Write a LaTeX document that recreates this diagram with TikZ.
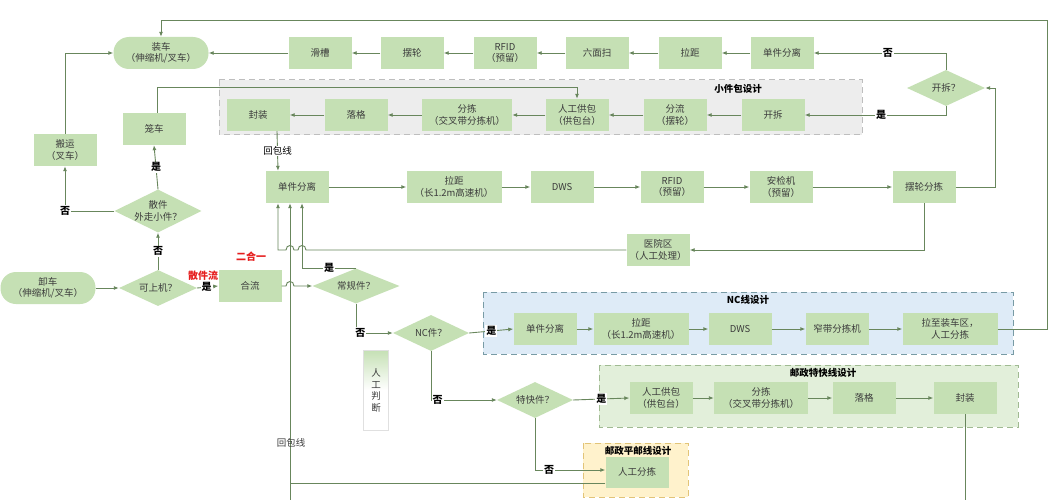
\documentclass[tikz,border=0pt]{standalone}
\usepackage{fontspec}
\setmainfont{Noto Sans CJK SC}
\usetikzlibrary{shapes.geometric,arrows.meta,calc}
\definecolor{boxg}{RGB}{197,224,180}
\definecolor{ln}{RGB}{104,134,92}
\definecolor{txt}{RGB}{60,60,60}
\definecolor{gfill}{RGB}{237,237,237}
\definecolor{gdraw}{RGB}{190,190,190}
\definecolor{bfill}{RGB}{222,235,247}
\definecolor{bdraw}{RGB}{120,155,165}
\definecolor{efill}{RGB}{226,239,218}
\definecolor{edraw}{RGB}{160,186,146}
\definecolor{yfill}{RGB}{255,242,204}
\definecolor{ydraw}{RGB}{226,196,120}
\definecolor{redlbl}{RGB}{230,30,30}
\newcommand\boxfont{\fontsize{9.5}{11.5}\selectfont}
\newcommand\lblfont{\fontsize{10}{12}\selectfont\bfseries}
\newcommand\ttlfont{\fontsize{9.5}{11}\selectfont\bfseries}
\tikzset{
 bx/.style={rectangle, fill=boxg, minimum width=63pt, minimum height=32pt, inner sep=1pt, align=center, text=txt, font=\boxfont},
 wbx/.style={bx, minimum width=95pt},
 pill/.style={bx, minimum width=95pt, rounded corners=15.5pt},
 dia/.style={diamond, fill=boxg, aspect=2, inner sep=-4pt, align=center, text=txt, font=\boxfont},
 arr/.style={draw=ln, line width=0.9pt, -{Latex[length=5pt,width=4pt]}},
 lnz/.style={draw=ln, line width=0.9pt},
 lbl/.style={fill=white, inner sep=1pt, font=\lblfont, text=black},
 grp/.style={dash pattern=on 6pt off 4pt, line width=1pt},
 gtitle/.style={font=\ttlfont, text=black},
 judge/.style={rectangle, draw=black!12, top color=boxg, bottom color=white, middle color=white, minimum width=25pt, minimum height=80pt, align=center, inner sep=1pt, text=txt, font=\boxfont, text depth=0pt}
}
\begin{document}
\begin{tikzpicture}[x=1pt,y=-1pt]
\useasboundingbox (0,0) rectangle (1049,500);
\fill[white] (0,0) rectangle (1049,500);
% groups
\draw[grp, fill=gfill, draw=gdraw] (219,80) rectangle (862,135);
\node[gtitle] (g1) at (738,89) {小件包设计};
\draw[grp, fill=bfill, draw=bdraw] (483,292) rectangle (1013,354);
\node[gtitle] (g2) at (748,300) {NC线设计};
\draw[grp, fill=efill, draw=edraw] (599,365) rectangle (1018,427);
\node[gtitle] (g3) at (823,373) {邮政特快线设计};
\draw[grp, fill=yfill, draw=ydraw] (583,443) rectangle (688,497);
\node[gtitle] (g4) at (638,451) {邮政平邮线设计};
% top row
\node[pill] (load) at (161,53) {装车\\（伸缩机/叉车）};
\node[bx] (t1) at (320,53) {滑槽};
\node[bx] (t2) at (412,53) {摆轮};
\node[bx] (t3) at (505,53) {RFID\\（预留）};
\node[bx] (t4) at (597,53) {六面扫};
\node[bx] (t5) at (690,53) {拉距};
\node[bx] (t6) at (782,53) {单件分离};
\node[dia, minimum width=78pt, minimum height=36pt] (kc) at (946,88) {开拆？};
% small package row
\node[bx] (s1) at (258,115) {封装};
\node[bx] (s2) at (356,115) {落格};
\node[bx, minimum width=90pt] (s3) at (467,115) {分拣\\（交叉带分拣机）};
\node[bx] (s4) at (577,115) {人工供包\\（供包台）};
\node[bx] (s5) at (675,115) {分流\\（摆轮）};
\node[bx] (s6) at (773,115) {开拆};
% left column
\node[bx] (cage) at (154,129) {笼车};
\node[bx] (carry) at (65,150) {搬运\\（叉车）};
\node[dia, minimum width=87pt, minimum height=43pt] (sd) at (158,211) {散件\\外走小件？};
\node[pill] (unload) at (48,288) {卸车\\（伸缩机/叉车）};
\node[dia, minimum width=78pt, minimum height=36pt] (cm) at (158,288) {可上机？};
\node[bx] (merge) at (250,286) {合流};
\node[text=redlbl, font=\lblfont] (rl1) at (203,276) {散件流};
\node[text=redlbl, font=\lblfont] (rl2) at (251,257) {二合一};
% second row
\node[bx] (r1) at (297,187) {单件分离};
\node[wbx] (r2) at (454,187) {拉距\\（长1.2m高速机）};
\node[bx] (r3) at (562,187) {DWS};
\node[bx] (r4) at (672,187) {RFID\\（预留）};
\node[bx] (r5) at (781,187) {安检机\\（预留）};
\node[bx] (r6) at (924,187) {摆轮分拣};
\node[bx] (hosp) at (658,250) {医院区\\（人工处理）};
% decisions
\node[dia, minimum width=87pt, minimum height=35pt] (cg) at (356,286) {常规件？};
\node[dia, minimum width=76pt, minimum height=36pt] (nc) at (431,333) {NC件？};
\node[dia, minimum width=76pt, minimum height=36pt] (tk) at (535,400) {特快件？};
\node[judge] (jd) at (376,390) {人\\工\\判\\断};
% NC row
\node[bx] (n1) at (545,329) {单件分离};
\node[wbx] (n2) at (641,329) {拉距\\（长1.2m高速机）};
\node[bx] (n3) at (740,329) {DWS};
\node[bx] (n4) at (837,329) {窄带分拣机};
\node[wbx] (n5) at (950,329) {拉至装车区，\\人工分拣};
% express row
\node[bx] (e1) at (661,398) {人工供包\\（供包台）};
\node[bx, minimum width=94pt] (e2) at (761,398) {分拣\\（交叉带分拣机）};
\node[bx] (e3) at (864,398) {落格};
\node[bx] (e4) at (965,398) {封装};
% ordinary mail
\node[bx, minimum height=31pt] (pm) at (637,472) {人工分拣};
\coordinate (tr) at (1047,20);
\coordinate (bot) at (0,500);
% connectors top row
\draw[arr] (t6.west) -- (t5.east);
\draw[arr] (t5.west) -- (t4.east);
\draw[arr] (t4.west) -- (t3.east);
\draw[arr] (t3.west) -- (t2.east);
\draw[arr] (t2.west) -- (t1.east);
\draw[arr] (t1.west) -- (load.east);
\draw[arr] (kc.north) |- node[lbl, pos=0.72] {否} (t6.east);
\draw[arr] (kc.south) |- node[lbl, pos=0.73] {是} (s6.east);
% small package row
\draw[arr] (s6.west) -- (s5.east);
\draw[arr] (s5.west) -- (s4.east);
\draw[arr] (s4.west) -- (s3.east);
\draw[arr] (s3.west) -- (s2.east);
\draw[arr] (s2.west) -- (s1.east);
\draw[arr] ([xshift=19pt]s1.south) -- node[lbl, font=\boxfont\mdseries] {回包线} ([xshift=-19pt]r1.north);
\draw[arr] ([xshift=3pt]cage.north) -- ++(0,-25) -| (s4.north);
\draw[arr] (carry.north) |- (load.west);
% left column
\draw[arr] (sd.north) -- node[lbl] {是} (cage.south);
\draw[arr] (sd.west) -| node[lbl, pos=0.5] {否} (carry.south);
\draw[arr] (unload.east) -- (cm.west);
\draw[arr] (cm.north) -- node[lbl] {否} (sd.south);
\draw[arr] (cm.east) -- node[lbl, pos=0.45] {是} (merge.west);
\draw[arr] (merge.east) -- (286,286) .. controls (286,280) and (294,280) .. (294,286) -- (cg.west);
% second row
\draw[arr] (r1.east) -- (r2.west);
\draw[arr] (r2.east) -- (r3.west);
\draw[arr] (r3.east) -- (r4.west);
\draw[arr] (r4.east) -- (r5.west);
\draw[arr] (r5.east) -- (r6.west);
\draw[arr] (r6.east) -- ++(40,0) |- (kc.east);
\draw[arr] (r6.south) |- (hosp.east);
\draw[arr] (hosp.west) -- (306,250) .. controls (306,244) and (298,244) .. (298,250) -- (294,250) .. controls (294,244) and (286,244) .. (286,250) -- (278,250) -- ([xshift=-19pt]r1.south);
\draw[arr] (290,500) -- ([xshift=-7pt]r1.south);
\draw[arr] (cg.north) -| node[lbl, pos=0.25] {是} ([xshift=5pt]r1.south);
\node[font=\boxfont, text=txt] (hb2) at (291,443) {回包线};
% decisions lower
\draw[arr] (cg.south) |- node[lbl, pos=0.56] {否} (nc.west);
\draw[arr] (nc.east) -- node[lbl, pos=0.5] {是} (n1.west);
\draw[arr] (nc.south) |- node[lbl, pos=0.55] {否} (tk.west);
\draw[arr] (tk.east) -- node[lbl, pos=0.5] {是} (e1.west);
\draw[arr] (tk.south) |- node[lbl, pos=0.6] {否} ([yshift=2pt]pm.west);
% NC row
\draw[arr] (n1.east) -- (n2.west);
\draw[arr] (n2.east) -- (n3.west);
\draw[arr] (n3.east) -- (n4.west);
\draw[arr] (n4.east) -- (n5.west);
\draw[arr] (n5.east) -| (tr) -| (load.north);
% express row
\draw[arr] (e1.east) -- (e2.west);
\draw[arr] (e2.east) -- (e3.west);
\draw[arr] (e3.east) -- (e4.west);
\draw[lnz] (e4.south) -- (e4.south |- bot);
\draw[lnz] ([yshift=-11pt]pm.west) -- (290,483);
\end{tikzpicture}
\end{document}
